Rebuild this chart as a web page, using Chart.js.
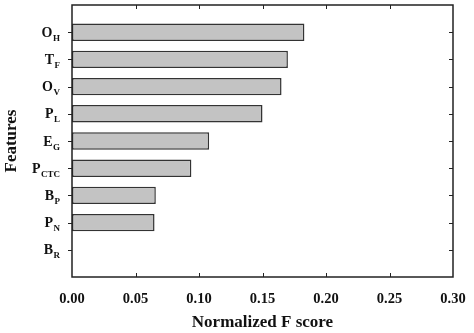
<!DOCTYPE html>
<html>
<head>
<meta charset="utf-8">
<script src="https://cdn.jsdelivr.net/npm/chart.js@4.4.1/dist/chart.umd.min.js"></script>
<style>
  body { margin: 0; background: #fff; }
  #wrap { width: 474px; height: 333px; }
</style>
</head>
<body>
<div id="wrap"><canvas id="fscore" width="474" height="333"></canvas></div>
<script>
// feature names: main letter + subscript
const featureMain = ['O', 'T', 'O', 'P', 'E', 'P', 'B', 'P', 'B'];
const featureSub = ['H', 'F', 'V', 'L', 'G', 'CTC', 'P', 'N', 'R'];
const fScores = [0.183, 0.170, 0.165, 0.150, 0.108, 0.094, 0.066, 0.065, 0];
const xTicks = [0, 0.05, 0.10, 0.15, 0.20, 0.25, 0.30];

const serif = "'Liberation Serif', 'Times New Roman', serif";

// one empty slot above and below, like the original axis
const labels = [''].concat(featureMain.map((m, i) => m + featureSub[i]), ['']);
const values = [null].concat(fScores, [null]);

const frame = {
    id: 'frame',
    afterDraw(chart) {
        const { ctx, chartArea: a, scales } = chart;
        const xs = scales.x, ys = scales.y;
        ctx.save();
        ctx.strokeStyle = '#222';
        ctx.lineWidth = 1.5;
        ctx.strokeRect(a.left, a.top, a.right - a.left, a.bottom - a.top);

        ctx.lineWidth = 1;
        ctx.beginPath();
        xTicks.slice(1, -1).forEach(v => {
            const px = Math.round(xs.getPixelForValue(v)) + 0.5;
            ctx.moveTo(px, a.bottom); ctx.lineTo(px, a.bottom - 4);
            ctx.moveTo(px, a.top); ctx.lineTo(px, a.top + 4);
        });
        featureMain.forEach((m, i) => {
            const py = Math.round(ys.getPixelForValue(i + 1)) + 0.5;
            ctx.moveTo(a.left, py); ctx.lineTo(a.left - 4, py);
            ctx.moveTo(a.right, py); ctx.lineTo(a.right - 4, py);
        });
        ctx.stroke();

        // category labels with subscripts
        ctx.fillStyle = '#111';
        ctx.textAlign = 'right';
        ctx.textBaseline = 'alphabetic';
        const right = a.left - 12;
        featureMain.forEach((m, i) => {
            const py = ys.getPixelForValue(i + 1);
            ctx.font = 'bold 9px ' + serif;
            const sw = ctx.measureText(featureSub[i]).width;
            ctx.fillText(featureSub[i], right, py + 8.5);
            ctx.font = 'bold 14px ' + serif;
            ctx.fillText(m, right - sw - 0.5, py + 4.5);
        });
        ctx.restore();
    }
};

new Chart(document.getElementById('fscore'), {
    type: 'bar',
    data: {
        labels: labels,
        datasets: [{
            data: values,
            backgroundColor: '#c3c3c3',
            borderColor: '#333',
            borderWidth: 1.5,
            borderSkipped: false,
            barPercentage: 0.64,
            categoryPercentage: 1
        }]
    },
    options: {
        indexAxis: 'y',
        responsive: false,
        animation: false,
        layout: { padding: { top: 5, right: 21, left: 0, bottom: 0 } },
        plugins: { legend: { display: false }, tooltip: { enabled: false } },
        scales: {
            x: {
                min: 0,
                max: 0.3,
                grid: { display: false },
                border: { display: false },
                afterBuildTicks: s => { s.ticks = xTicks.map(v => ({ value: v })); },
                afterFit: s => { s.height = 56; },
                ticks: {
                    padding: 6,
                    color: '#111',
                    font: { family: serif, size: 14.5, weight: 'bold' },
                    callback: v => Number(v).toFixed(2)
                },
                title: {
                    display: true,
                    text: 'Normalized F score',
                    color: '#111',
                    padding: { top: 0, bottom: 0 },
                    font: { family: serif, size: 17, weight: 'bold' }
                }
            },
            y: {
                offset: false,
                grid: { display: false },
                border: { display: false },
                ticks: { display: false },
                afterFit: s => { s.width = 72; },
                title: {
                    display: true,
                    text: 'Features',
                    color: '#111',
                    padding: { top: 1, bottom: 0 },
                    font: { family: serif, size: 17, weight: 'bold' }
                }
            }
        }
    },
    plugins: [frame]
});
</script>
</body>
</html>
